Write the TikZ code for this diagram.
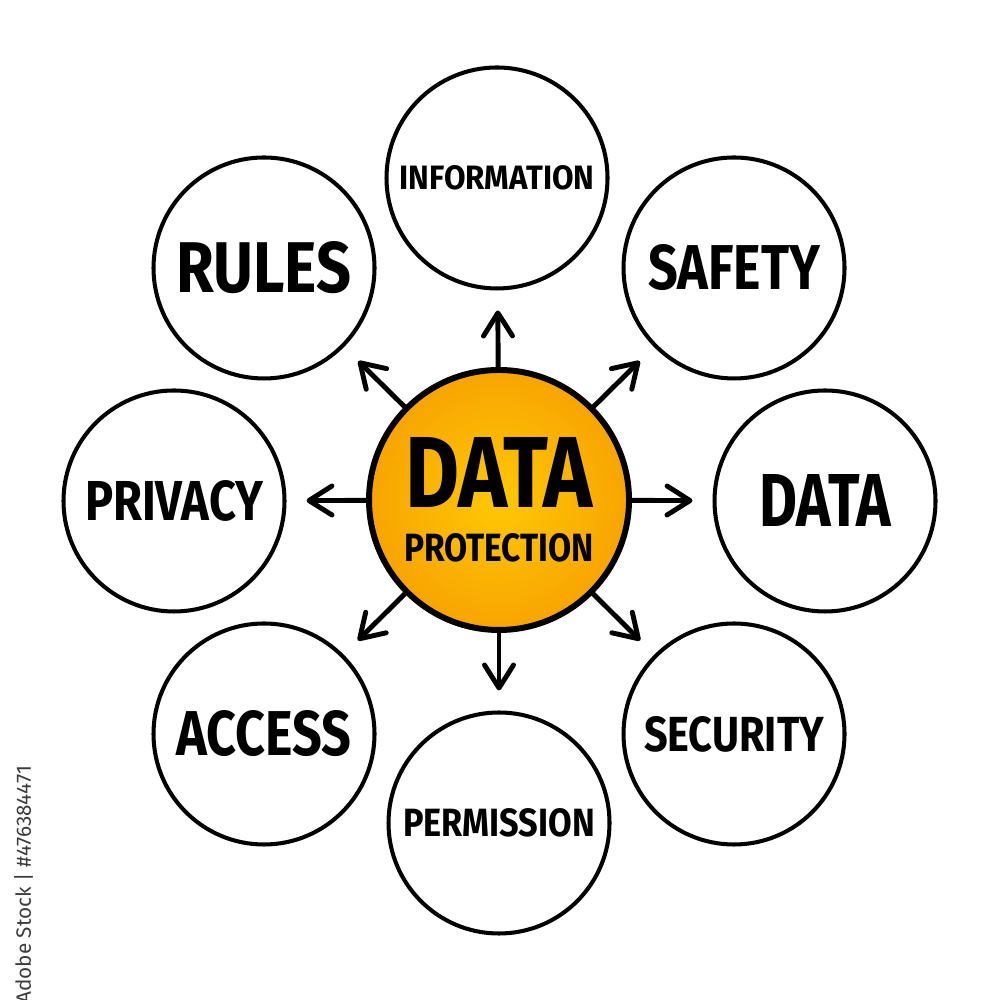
\documentclass[tikz,border=0pt]{standalone}
\usepackage{fontspec}
\setmainfont{Fira Sans}
\usetikzlibrary{arrows.meta}

\definecolor{orbin}{RGB}{255,200,4}
\definecolor{orbout}{RGB}{241,128,0}
\definecolor{stockgray}{RGB}{60,60,60}
\pgfdeclareradialshading{orb}{\pgfpoint{0bp}{0bp}}{color(0bp)=(orbin); color(50bp)=(orbout)}
\newcommand{\fitlbl}[3]{\resizebox{#1}{#2}{\bfseries #3}}

\begin{document}
\begin{tikzpicture}
        [bubble/.style={draw,shape=circle,inner sep=0,minimum size=2.21cm,line width=1.15pt},
         hub/.style={draw,shape=circle,inner sep=0,minimum size=2.6cm,line width=1.7pt,shading=orb,align=center},
         spoke/.style={-{Straight Barb[length=2.3mm,width=2.9mm,round]},line width=1.4pt,line cap=round,shorten >=0.2cm},
         stock/.style={rotate=90,anchor=base east,inner sep=0,text=stockgray,font=\fontsize{5.9pt}{6pt}\selectfont}]

        \path[use as bounding box,fill=white] (0,0) rectangle (10,10);
        \clip (0,0) rectangle (10,10);

        \node[hub] (v0) at (4.99, 5) {\fitlbl{1.88cm}{0.70cm}{DATA}\\[3.3pt]\fitlbl{1.90cm}{0.28cm}{PROTECTION}};

        \node[bubble] (v1) at (4.97, 8.22) {\fitlbl{1.95cm}{0.24cm}{INFORMATION}};
        \node[bubble] (v2) at (7.34, 7.32) {\fitlbl{1.72cm}{0.45cm}{SAFETY}};
        \node[bubble] (v3) at (8.25, 4.99) {\fitlbl{1.32cm}{0.52cm}{DATA}};
        \node[bubble] (v4) at (7.34, 2.66) {\fitlbl{1.80cm}{0.35cm}{SECURITY}};
        \node[bubble] (v5) at (4.99, 1.77) {\fitlbl{1.92cm}{0.28cm}{PERMISSION}};
        \node[bubble] (v6) at (2.64, 2.66) {\fitlbl{1.75cm}{0.45cm}{ACCESS}};
        \node[bubble] (v7) at (1.74, 4.99) {\fitlbl{1.78cm}{0.40cm}{PRIVACY}};
        \node[bubble] (v8) at (2.64, 7.32) {\fitlbl{1.75cm}{0.51cm}{RULES}};

        \draw[spoke] (v0) -- (v1);
        \draw[spoke] (v0) -- (v2);
        \draw[spoke] (v0) -- (v3);
        \draw[spoke] (v0) -- (v4);
        \draw[spoke] (v0) -- (v5);
        \draw[spoke] (v0) -- (v6);
        \draw[spoke] (v0) -- (v7);
        \draw[spoke] (v0) -- (v8);

        \node[stock] (wm) at (0.31, 2.35) {Adobe Stock | \#476384471};

      \end{tikzpicture}
\end{document}
